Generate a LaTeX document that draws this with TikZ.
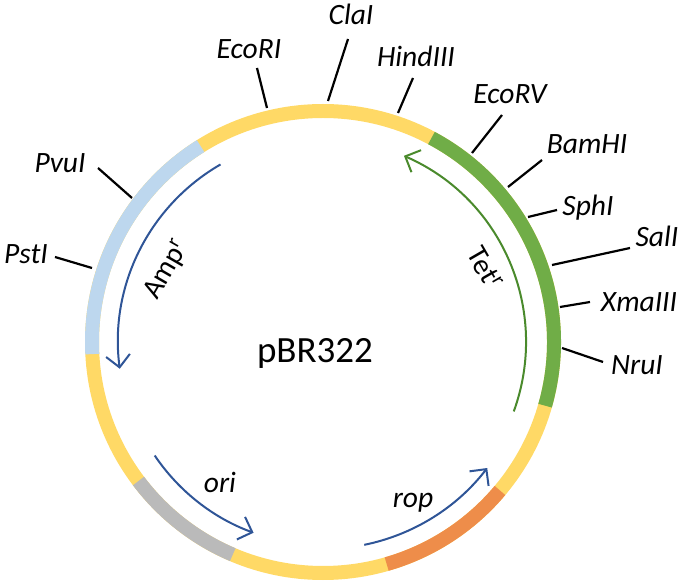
\documentclass[tikz,border=0pt]{standalone}
\usepackage{fontspec}
\setmainfont{Carlito}
\usetikzlibrary{arrows.meta}
\definecolor{ringyel}{HTML}{FFD966}
\definecolor{ringblue}{HTML}{BDD7EE}
\definecolor{ringgreen}{HTML}{70AD47}
\definecolor{ringorange}{HTML}{EE8D4A}
\definecolor{ringgray}{HTML}{BABABA}
\definecolor{arrblue}{HTML}{2F5597}
\definecolor{arrgreen}{HTML}{4A8A2C}
\begin{document}
\begin{tikzpicture}[x=1pt,y=1pt,
  ring/.style={line width=14pt, line cap=butt},
  tick/.style={line width=2.2pt, black},
  site/.style={font=\fontsize{29.5}{31}\selectfont\itshape, inner sep=0pt},
  genelabel/.style={font=\fontsize{29}{31}\selectfont, inner sep=0pt},
  genearrow/.style={line width=2pt, -{Straight Barb[length=12pt,width=24pt,line width=2pt]}}
]
\useasboundingbox (0,0) rectangle (685,581);
\coordinate (C) at (323,239);
% ring
\draw[ring, ringyel] (C) circle[radius=231];
\draw[ring, ringblue] (C) ++(122:231) arc[start angle=122,end angle=183,radius=231];
\draw[ring, ringgray] (C) ++(217:231) arc[start angle=217,end angle=247,radius=231];
\draw[ring, ringorange] (C) ++(-74:231) arc[start angle=-74,end angle=-40,radius=231];
\draw[ring, ringgreen] (C) ++(-16:231) arc[start angle=-16,end angle=62,radius=231];
% sites
\node[site] (ecori) at (249,532) {EcoRI};
\coordinate (ecori-o) at (257,513); \coordinate (ecori-i) at (267,473);
\draw[tick] (ecori-o) -- (ecori-i);
\node[site] (clai) at (351,567) {ClaI};
\coordinate (clai-o) at (348,542); \coordinate (clai-i) at (328,480);
\draw[tick] (clai-o) -- (clai-i);
\node[site] (hind) at (416,525) {HindIII};
\coordinate (hind-o) at (413,503); \coordinate (hind-i) at (398,468);
\draw[tick] (hind-o) -- (hind-i);
\node[site] (ecorv) at (510,487) {EcoRV};
\coordinate (ecorv-o) at (502,466); \coordinate (ecorv-i) at (472,428);
\draw[tick] (ecorv-o) -- (ecorv-i);
\node[site] (bam) at (587,437) {BamHI};
\coordinate (bam-o) at (542,421); \coordinate (bam-i) at (508,394);
\draw[tick] (bam-o) -- (bam-i);
\node[site] (sph) at (588,373) {SphI};
\coordinate (sph-o) at (557,371); \coordinate (sph-i) at (528,364);
\draw[tick] (sph-o) -- (sph-i);
\node[site] (sal) at (657,345) {SalI};
\coordinate (sal-o) at (630,333); \coordinate (sal-i) at (552,316);
\draw[tick] (sal-o) -- (sal-i);
\node[site] (xma) at (639,279) {XmaIII};
\coordinate (xma-o) at (590,279); \coordinate (xma-i) at (560,274);
\draw[tick] (xma-o) -- (xma-i);
\node[site] (nru) at (637,216) {NruI};
\coordinate (nru-o) at (603,219); \coordinate (nru-i) at (562,233);
\draw[tick] (nru-o) -- (nru-i);
\node[site] (pvu) at (60,418) {PvuI};
\coordinate (pvu-o) at (98,413); \coordinate (pvu-i) at (132,383);
\draw[tick] (pvu-o) -- (pvu-i);
\node[site] (pst) at (26,327) {PstI};
\coordinate (pst-o) at (55,324); \coordinate (pst-i) at (92,313);
\draw[tick] (pst-o) -- (pst-i);
% gene arrows
\draw[genearrow, arrblue] (C) ++(120:205) arc[start angle=120,end angle=187.5,radius=205];
\draw[genearrow, arrgreen] (C) ++(-20:203) arc[start angle=-20,end angle=66.5,radius=203];
\draw[genearrow, arrblue] (C) ++(214:203) arc[start angle=214,end angle=250,radius=203];
\draw[genearrow, arrblue] (C) ++(-78.5:207) arc[start angle=-78.5,end angle=-37.5,radius=207];
% labels
\node[genelabel, rotate=60] (amp) at (167,311) {Amp\textsuperscript{r}};
\node[genelabel, rotate=-60] (tet) at (485,313) {Tet\textsuperscript{r}};
\node[site] (ori) at (220,99) {ori};
\node[site] (rop) at (413,78) {rop};
\node[font=\fontsize{37}{40}\selectfont, inner sep=0pt] (name) at (315,228) {pBR322};
\end{tikzpicture}
\end{document}
